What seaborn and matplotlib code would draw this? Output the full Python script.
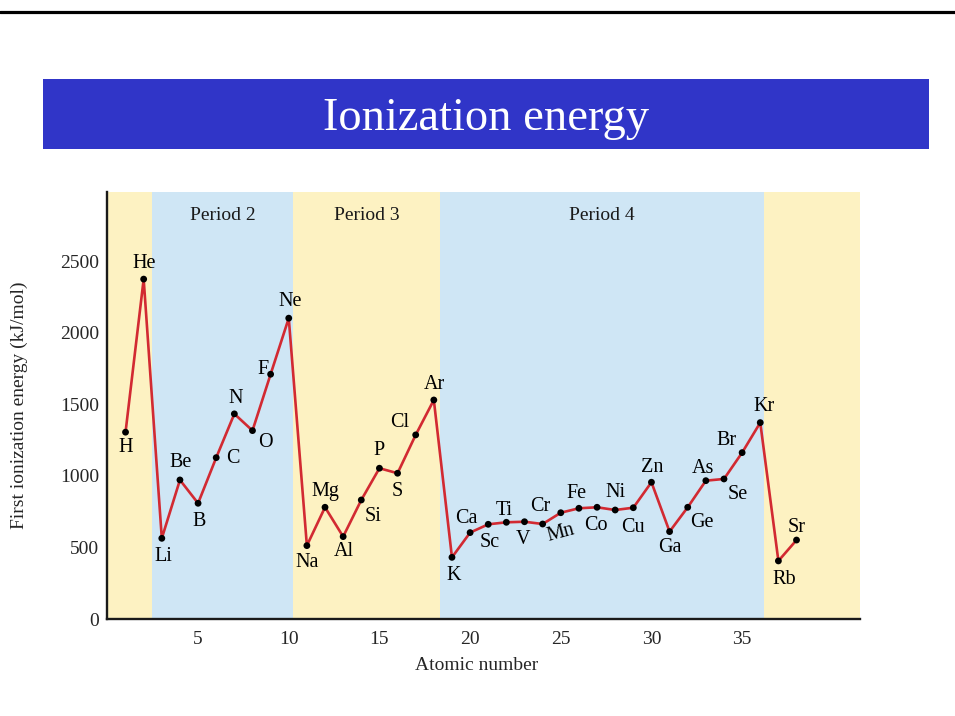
import numpy as np
import pandas as pd
import matplotlib
matplotlib.use('Agg')
import matplotlib.pyplot as plt
import seaborn as sns
from matplotlib.lines import Line2D
from matplotlib.patches import Rectangle

# Данные: первая энергия ионизации (кДж/моль)
atomic_numbers = [1, 2, 3, 4, 5, 6, 7, 8, 9, 10,
                  11, 12, 13, 14, 15, 16, 17, 18,
                  19, 20, 21, 22, 23, 24, 25, 26, 27, 28, 29, 30,
                  31, 32, 33, 34, 35, 36, 37, 38]
symbols = ['H', 'He', 'Li', 'Be', 'B', 'C', 'N', 'O', 'F', 'Ne',
           'Na', 'Mg', 'Al', 'Si', 'P', 'S', 'Cl', 'Ar',
           'K', 'Ca', 'Sc', 'Ti', 'V', 'Cr', 'Mn', 'Fe', 'Co', 'Ni', 'Cu', 'Zn',
           'Ga', 'Ge', 'As', 'Se', 'Br', 'Kr', 'Rb', 'Sr']
energy = [1306, 2376, 564, 972, 809, 1128, 1434, 1317, 1711, 2103,
          513, 781, 576, 832, 1054, 1019, 1287, 1531,
          431, 604, 662, 676, 680, 664, 743, 774, 781, 762, 778, 956,
          611, 781, 967, 979, 1163, 1373, 406, 552]

period_names = ['Period 2', 'Period 3', 'Period 4']
band_edges = [0, 2.46, 10.25, 18.35, 36.2, 41.5]
x_ticks = [5, 10, 15, 20, 25, 30, 35, 40]
x_tick_labels = ['5', '10', '15', '20', '25', '30', '35', '']
y_ticks = [0, 500, 1000, 1500, 2000, 2500]

# Смещения подписей элементов (пиксели, x вправо, y вниз)
label_offsets = {
    'H': (0, 15), 'He': (1, -16), 'Li': (2, 18), 'Be': (1, -17), 'B': (1, 18),
    'C': (17, 1), 'N': (1, -15), 'O': (13, 12), 'F': (-8, -5), 'Ne': (1, -17),
    'Na': (0, 17), 'Mg': (0, -16), 'Al': (1, 15), 'Si': (12, 17), 'P': (0, -18),
    'S': (0, 18), 'Cl': (-16, -12), 'Ar': (1, -15), 'K': (2, 18), 'Ca': (-4, -14),
    'Sc': (1, 18), 'Ti': (-2, -12), 'V': (-1, 18), 'Cr': (-2, -18), 'Mn': (0, 20),
    'Fe': (-2, -15), 'Co': (-1, 18), 'Ni': (0, -17), 'Cu': (0, 20), 'Zn': (1, -15),
    'Ga': (0, 16), 'Ge': (14, 15), 'As': (-3, -12), 'Se': (14, 16), 'Br': (-16, -12),
    'Kr': (4, -16), 'Rb': (6, 19), 'Sr': (0, -13),
}

YELLOW = '#fdf2c2'
BLUE = '#cfe6f5'
RED = '#d22a32'
SERIF = ['Liberation Serif', 'DejaVu Serif']

sns.set_style('white')
plt.rcParams['font.family'] = SERIF

df = pd.DataFrame({'Z': atomic_numbers, 'IE': energy, 'sym': symbols})

fig = plt.figure(figsize=(9.55, 7.16), dpi=100)

# Верхняя линия и синяя плашка заголовка
fig.add_artist(Line2D([0, 1], [1 - 11.5 / 716] * 2, color='black', lw=2.3,
                      transform=fig.transFigure))
fig.add_artist(Rectangle((43 / 955, 1 - 148.5 / 716), 886 / 955, 69.5 / 716,
                         transform=fig.transFigure, color='#3035c8', lw=0))
fig.text(486 / 955, 1 - 129.5 / 716, 'Ionization energy', ha='center', va='baseline',
         fontsize=33.5, color='white', family=SERIF)

ax = fig.add_axes([107.4 / 955, 97 / 716, 752.6 / 955, 427 / 716])

# Полосы периодов
for i in range(len(band_edges) - 1):
    ax.axvspan(band_edges[i], band_edges[i + 1], color=YELLOW if i % 2 == 0 else BLUE,
               lw=0, zorder=0)
for i, name in enumerate(period_names):
    xc = (band_edges[i + 1] + band_edges[i + 2]) / 2
    ax.text(xc, 2818, name, ha='center', va='center', fontsize=14, color='#1a1a1a')

sns.lineplot(data=df, x='Z', y='IE', color=RED, lw=1.9, ax=ax, zorder=2)
sns.scatterplot(data=df, x='Z', y='IE', color='black', s=24, edgecolor='none',
                ax=ax, zorder=3)

for z, ie, sym in zip(atomic_numbers, energy, symbols):
    dx, dy = label_offsets[sym]
    ax.annotate(sym, (z, ie), xytext=(dx, -dy), textcoords='offset pixels',
                ha='center', va='center', fontsize=14.5, color='black',
                rotation=15 if sym == 'Mn' else 0)

ax.set_xlim(0, 41.5)
ax.set_ylim(0, 2985)
ax.set_xticks(x_ticks)
ax.set_xticklabels(x_tick_labels)
ax.set_yticks(y_ticks)
ax.tick_params(direction='in', length=9, width=1.6, labelsize=14, color='#1a1a1a')
ax.tick_params(axis='x', pad=9)
ax.tick_params(axis='y', pad=6)
for side in ['top', 'right']:
    ax.spines[side].set_visible(False)
for side in ['left', 'bottom']:
    ax.spines[side].set_linewidth(1.7)
    ax.spines[side].set_color('#1a1a1a')

ax.set_xlabel('Atomic number', fontsize=14)
ax.set_ylabel('First ionization energy (kJ/mol)', fontsize=14)
ax.xaxis.set_label_coords(0.49, -0.088)
ax.yaxis.set_label_coords(-0.105, 0.5)

fig.savefig('out.png', dpi=100)
